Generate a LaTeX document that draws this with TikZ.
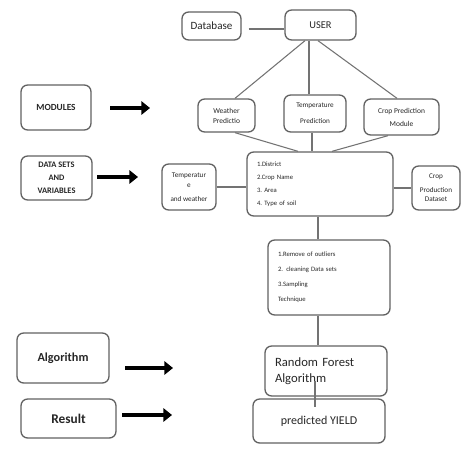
\documentclass[tikz,border=0pt]{standalone}
\usepackage{fontspec}
\setmainfont{Carlito}
\usetikzlibrary{arrows.meta,calc}

\tikzset{every picture/.style={line width=0.8pt}}
\tikzset{
  box/.style={draw=black!62, rounded corners=5pt, line width=1pt, inner sep=0pt, text=black!85, align=center},
  link/.style={draw=black!55, line width=0.8pt},
  bigarrow/.style={draw=black, line width=3.6pt, -{Triangle[length=6.5pt,width=10pt]}},
}

\begin{document}
\begin{tikzpicture}[x=0.75pt,y=0.75pt,yscale=-1,xscale=1]
\useasboundingbox (0,0) rectangle (474,453);

%Shape: Rounded Rectangle [Database]
\node[box, minimum width=44.25pt, minimum height=21pt, font=\fontsize{8.3}{10}\selectfont] (db) at (211.5,26) {Database};
%Shape: Rounded Rectangle [USER]
\node[box, minimum width=53.25pt, minimum height=22.5pt, font=\fontsize{7.8}{10}\selectfont] (user) at (320.5,25) {USER};

%Shape: Rounded Rectangle [modules]
\node[box, minimum width=42.75pt, minimum height=24.75pt, font=\fontsize{5.6}{7.5}\selectfont] (weather) at (226.5,115.5) {Weather\\Predictio};
\node[box, minimum width=46.5pt, minimum height=27.75pt, font=\fontsize{5.4}{12}\selectfont] (temp) at (315,113.5) {Temperature\\Prediction};
\node[box, minimum width=56.25pt, minimum height=27pt, font=\fontsize{5.6}{9.75}\selectfont] (cropmod) at (401.5,117) {Crop Prediction\\Module};

%Shape: Rounded Rectangle [data sets]
\node[box, minimum width=40.5pt, minimum height=34.5pt, font=\fontsize{5.4}{7.5}\selectfont] (tw) at (189,187) {Temperatur\\e\\[3pt]and weather};
\node[box, align=left, text width=94.5pt, inner xsep=7.5pt, minimum height=48pt, font=\fontsize{5}{9.75}\selectfont] (attrs) at (320,184) {1.District\\2.Crop Name\\3.\ Area\\4.\ Type of soil};
\node[box, minimum width=36pt, minimum height=33pt, font=\fontsize{5.4}{7}\selectfont] (cpd) at (436,188) {Crop\\[3.5pt]Production\\Dataset};

%Shape: Rounded Rectangle [preprocessing]
\node[box, align=left, text width=76.5pt, inner xsep=7.5pt, minimum height=56.25pt, font=\fontsize{5}{11.25}\selectfont] (prep) at (329,277.5) {1.Remove of outliers\\2. cleaning Data sets\\3.Sampling\\Technique};

%Shape: Rounded Rectangle [algorithm, result]
\node[box, align=left, text width=76.5pt, inner xsep=7.5pt, minimum height=37.5pt, font=\fontsize{9.5}{12}\selectfont] (rf) at (326,371) {Random Forest\\Algorithm};
\node[box, minimum width=99pt, minimum height=33pt, font=\fontsize{9}{11}\selectfont] (yield) at (319,421) {predicted YIELD};

%Shape: Rounded Rectangle [left column]
\node[box, minimum width=52.5pt, minimum height=33.75pt, font=\fontsize{7}{9}\selectfont\bfseries] (modules) at (56,107.5) {MODULES};
\node[box, minimum width=53.25pt, minimum height=33pt, font=\fontsize{6.3}{9.75}\selectfont\bfseries] (datasets) at (56.5,178) {DATA SETS\\AND\\VARIABLES};
\node[box, minimum width=69pt, minimum height=37.5pt, font=\fontsize{9.2}{11}\selectfont\bfseries] (algo) at (63,358) {Algorithm};
\node[box, minimum width=71.25pt, minimum height=29.25pt, font=\fontsize{10}{12}\selectfont\bfseries] (result) at (68.5,418.5) {Result};

%Straight Lines
\draw[link] ($(db.east)+(7,3)$) -- ($(user.west)+(0,4)$);
\draw[link] ($(user.south)+(-15.5,0)$) -- ($(weather.north)+(8.5,0)$);
\draw[link] ($(user.south)+(-11.5,0)$) -- ($(temp.north)+(-6,0)$);
\draw[link] ($(user.south)+(-2.5,0)$) -- ($(cropmod.north)+(-4.5,0)$);
\draw[link] ($(weather.south)+(8.5,0)$) -- ($(attrs.north)+(-22,0)$);
\draw[link] ($(temp.south)+(-3,0)$) -- ($(attrs.north)+(-8,0)$);
\draw[link] ($(cropmod.south)+(-13.5,0)$) -- ($(attrs.north)+(12,0)$);
\draw[link] (tw.east) -- (tw.east -| attrs.west);
\draw[link] (attrs.east |- cpd.west) -- (cpd.west);
\draw[link] ($(attrs.south)+(-2,0)$) -- ($(prep.north)+(-11,0)$);
\draw[link] ($(prep.south)+(-11,0)$) -- ($(rf.north)+(-8,0)$);
\draw[link] ($(rf.south)+(-11,-16)$) -- ($(yield.north)+(-4,9)$);

%Block Arrows
\coordinate (modA) at (110,108);
\coordinate (modB) at (150,108);
\coordinate (dsA) at (97,177);
\coordinate (dsB) at (138,177);
\coordinate (alA) at (125,368);
\coordinate (alB) at (173,368);
\coordinate (reA) at (122,415);
\coordinate (reB) at (172,415);
\draw[bigarrow] (modA) -- (modB);
\draw[bigarrow] (dsA) -- (dsB);
\draw[bigarrow] (alA) -- (alB);
\draw[bigarrow] (reA) -- (reB);

\end{tikzpicture}
\end{document}
